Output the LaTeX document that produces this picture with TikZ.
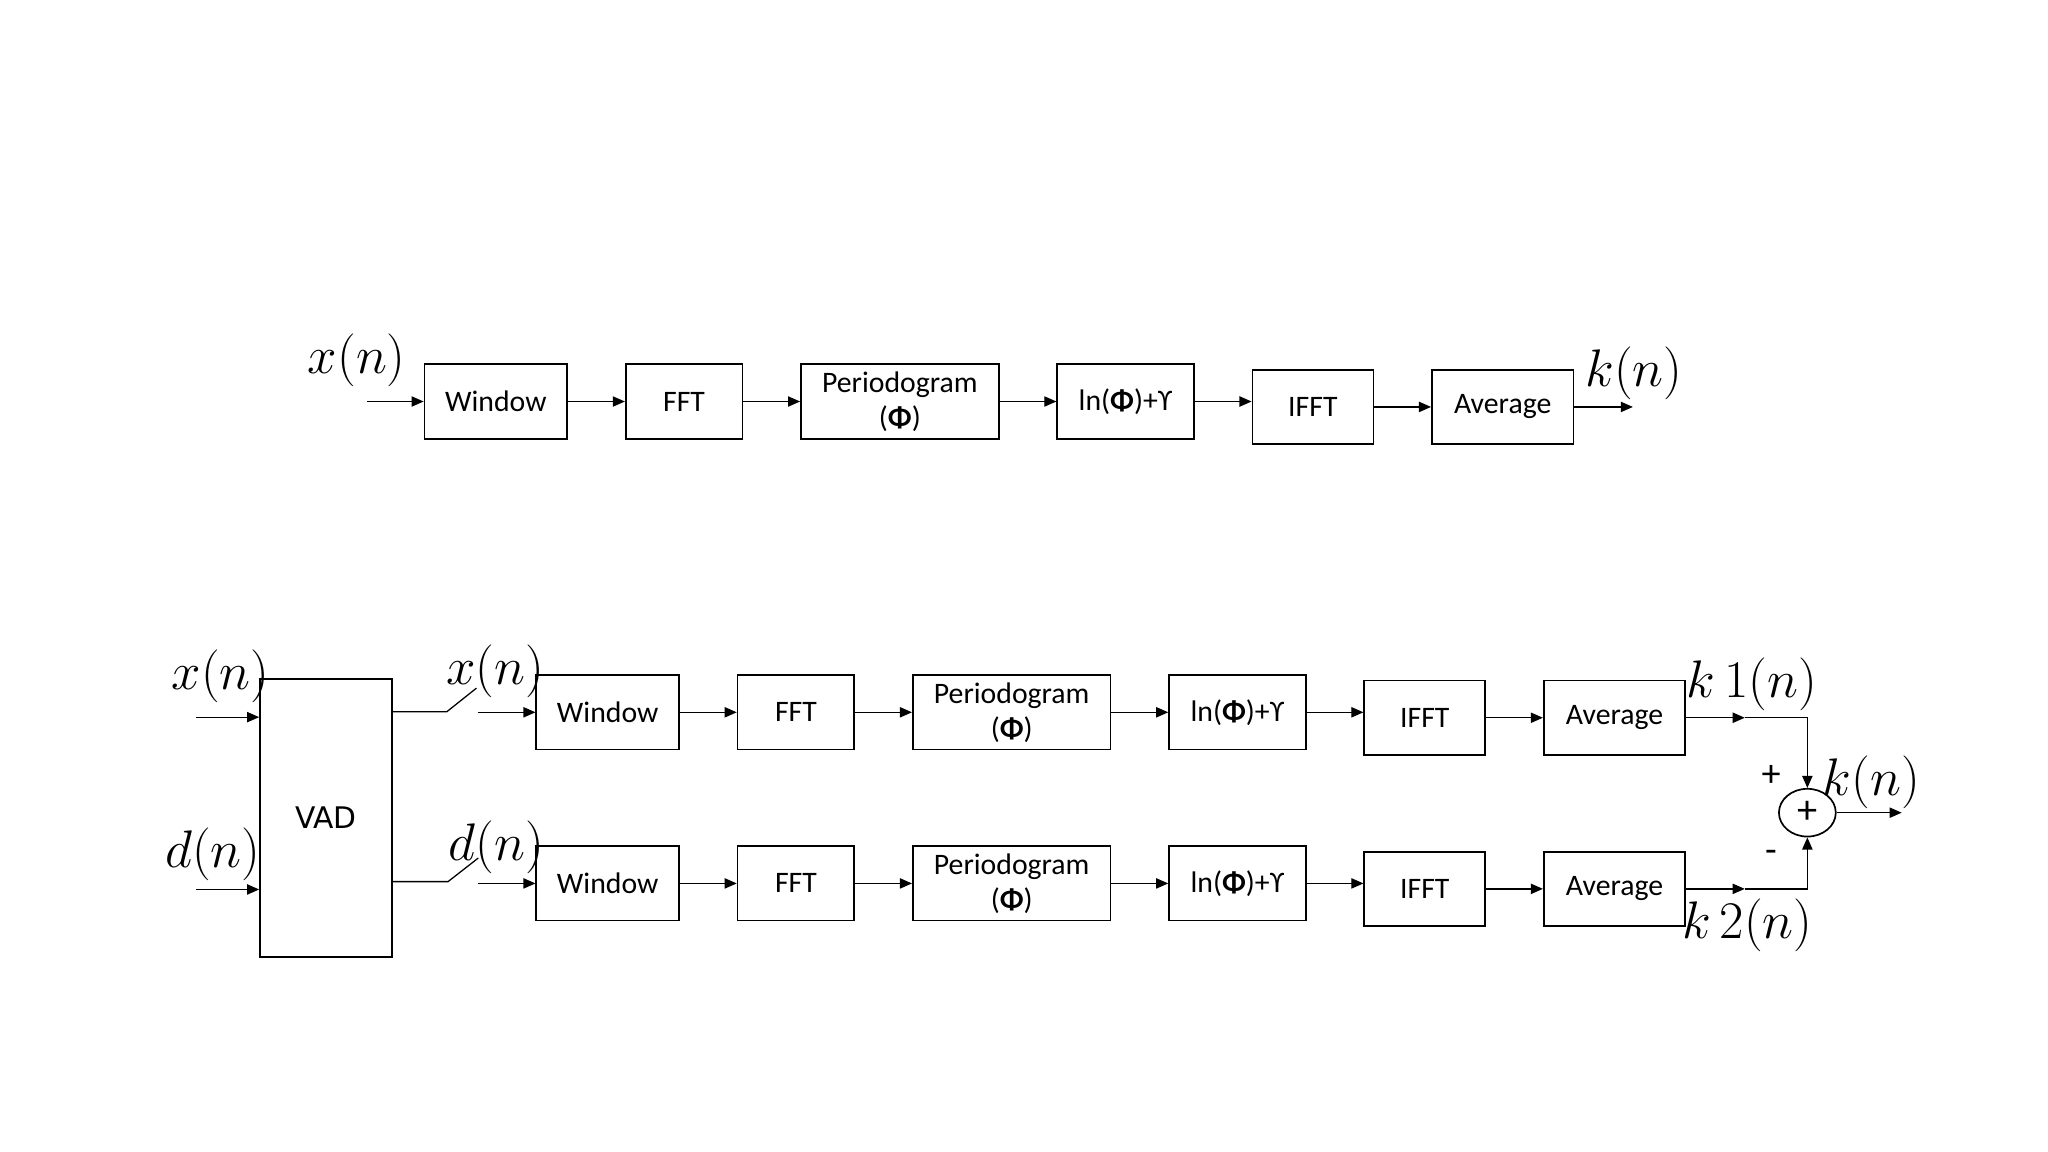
\documentclass[tikz,border=0pt]{standalone}
\usepackage[no-math]{fontspec}
\setmainfont{Carlito}
\newfontfamily\vadfont{DejaVu Sans}
\usetikzlibrary{positioning,shapes.geometric,arrows.meta}
\tikzstyle{block} = [draw, line width=0.8pt, rectangle, align=center,
    minimum height=1.23cm, font=\fontsize{14}{16.5}\selectfont]
\tikzstyle{sum} = [draw, line width=0.8pt, ellipse, inner sep=0pt,
    minimum width=0.94cm, minimum height=0.79cm, font=\fontsize{19}{20}\selectfont]
\tikzstyle{sig} = [inner sep=0pt, font=\fontsize{24}{28}\selectfont]
\tikzstyle{sign} = [inner sep=0pt, font=\fontsize{18}{20}\selectfont]
\tikzstyle{input} = [coordinate]
\tikzstyle{output} = [coordinate]
\newcommand{\phisym}{{\bfseries Φ}}

\begin{document}
\begin{tikzpicture}[node distance=0.94cm, line width=0.6pt,
    >={Triangle[length=2mm,width=1.7mm]}]
    \useasboundingbox (0,0) rectangle (33.87,-19.05);
    % one channel
    \node [block, minimum width=2.36cm] (win) at (8.20,-6.64) {Window};
    \node [block, minimum width=1.93cm, right=of win] (fft) {FFT};
    \node [block, minimum width=3.27cm, right=of fft] (per) {Periodogram\\(\phisym)};
    \node [block, minimum width=2.26cm, right=of per] (log) {ln(\phisym)+ϒ};
    \node [block, minimum width=2.00cm, right=of log, yshift=-0.09cm] (ifft) {IFFT};
    \node [block, minimum width=2.34cm, right=of ifft] (avg) {Average};
    \node [input] (in) at (6.07,-6.64) {};
    \node [output, right=0.97cm of avg] (out) {};
    \node [sig] (xtop) at (5.90,-5.96) {$x(n)$};
    \node [sig] (ktop) at (27.02,-6.18) {$k(n)$};
    \draw [->] (in) -- (win);
    \draw [->] (win) -- (fft);
    \draw [->] (fft) -- (per);
    \draw [->] (per) -- (log);
    \draw [->] (log.east) -- (log.east -| ifft.west);
    \draw [->] (ifft) -- (avg);
    \draw [->] (avg) -- (out);

    % VAD with two channels
    \node [block, minimum width=2.18cm, minimum height=4.60cm,
        font=\vadfont\fontsize{14}{16}\selectfont] (vad) at (5.39,-13.53) {VAD};
    \node [input] (xin) at (3.24,-11.86) {};
    \node [input] (din) at (3.24,-14.71) {};
    \node [sig] (xleft) at (3.65,-11.19) {$x(n)$};
    \node [sig] (dleft) at (3.52,-14.13) {$d(n)$};
    \draw [->] (xin) -- (xin -| vad.west);
    \draw [->] (din) -- (din -| vad.west);
    % switches
    \node [input] (swa) at (7.39,-11.77) {};
    \node [input] (swatip) at (7.88,-11.38) {};
    \node [input] (swb) at (7.41,-14.58) {};
    \node [input] (swbtip) at (7.91,-14.19) {};
    \draw (vad.east |- swa) -- (swa) -- (swatip);
    \draw (vad.east |- swb) -- (swb) -- (swbtip);
    \node [sig] (xmid) at (8.19,-11.10) {$x(n)$};
    \node [sig] (dmid) at (8.21,-14.02) {$d(n)$};

    % upper channel
    \node [block, minimum width=2.36cm] (wina) at (10.05,-11.78) {Window};
    \node [block, minimum width=1.93cm, right=of wina] (ffta) {FFT};
    \node [block, minimum width=3.27cm, right=of ffta] (pera) {Periodogram\\(\phisym)};
    \node [block, minimum width=2.26cm, right=of pera] (loga) {ln(\phisym)+ϒ};
    \node [block, minimum width=2.00cm, right=of loga, yshift=-0.09cm] (iffta) {IFFT};
    \node [block, minimum width=2.34cm, right=of iffta] (avga) {Average};
    \node [input] (ina) at (7.91,-11.78) {};
    \node [output, right=0.97cm of avga] (ka) {};
    \draw [->] (ina) -- (wina);
    \draw [->] (wina) -- (ffta);
    \draw [->] (ffta) -- (pera);
    \draw [->] (pera) -- (loga);
    \draw [->] (loga.east) -- (loga.east -| iffta.west);
    \draw [->] (iffta) -- (avga);
    \draw [->] (avga) -- (ka);

    % lower channel
    \node [block, minimum width=2.36cm] (winb) at (10.05,-14.61) {Window};
    \node [block, minimum width=1.93cm, right=of winb] (fftb) {FFT};
    \node [block, minimum width=3.27cm, right=of fftb] (perb) {Periodogram\\(\phisym)};
    \node [block, minimum width=2.26cm, right=of perb] (logb) {ln(\phisym)+ϒ};
    \node [block, minimum width=2.00cm, right=of logb, yshift=-0.09cm] (ifftb) {IFFT};
    \node [block, minimum width=2.34cm, right=of ifftb] (avgb) {Average};
    \node [input] (inb) at (7.91,-14.61) {};
    \node [output, right=0.97cm of avgb] (kb) {};
    \draw [->] (inb) -- (winb);
    \draw [->] (winb) -- (fftb);
    \draw [->] (fftb) -- (perb);
    \draw [->] (perb) -- (logb);
    \draw [->] (logb.east) -- (logb.east -| ifftb.west);
    \draw [->] (ifftb) -- (avgb);
    \draw [->] (avgb) -- (kb);

    % difference
    \node [sum] (sum) at (29.89,-13.44) {+};
    \node [output] (kout) at (31.45,-13.44) {};
    \draw [->] (ka) -| (sum.north);
    \draw [->] (kb) -| (sum.south);
    \draw [->] (sum) -- (kout);
    \node [sign] (plus) at (29.29,-12.83) {+};
    \node [sign] (minus) at (29.29,-14.17) {-};
    \node [sig] (kalab) at (28.97,-11.32) {$k\,1(n)$};
    \node [sig] (kblab) at (28.90,-15.31) {$k\,2(n)$};
    \node [sig] (ksum) at (30.95,-12.94) {$k(n)$};
\end{tikzpicture}
\end{document}
